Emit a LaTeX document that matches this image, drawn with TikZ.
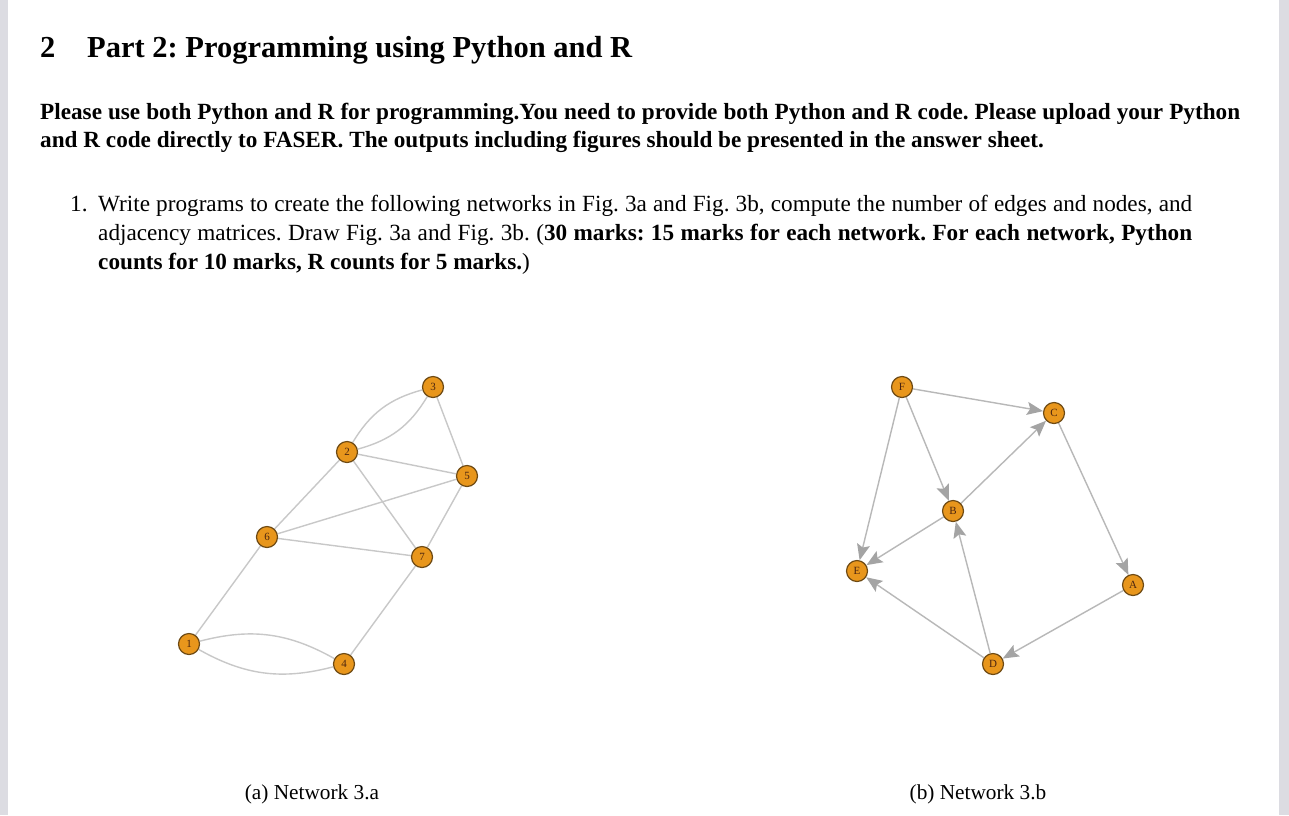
\documentclass[tikz,border=0pt]{standalone}
\usepackage{fontspec}
\setmainfont{Liberation Serif}
\usetikzlibrary{arrows.meta,backgrounds}
\definecolor{nodefill}{HTML}{E8961C}
\definecolor{nodeline}{HTML}{6E4A14}
\definecolor{nodetext}{HTML}{4A2410}
\definecolor{edgea}{HTML}{C8C8C8}
\definecolor{edgeb}{HTML}{B8B8B8}
\definecolor{arrowb}{HTML}{A4A4A4}
\definecolor{strip}{HTML}{DCDCE2}
\newcommand\jline[2]{\hbox to #1{#2}}
\frenchspacing
\tikzset{
  vtx/.style={circle, fill=nodefill, draw=nodeline, line width=1.2pt, minimum size=21pt, inner sep=0pt,
    font=\fontsize{11}{11}\selectfont, text=nodetext},
  ea/.style={draw=edgea, line width=1.4pt},
  eb/.style={draw=edgeb, line width=1.4pt, -{Stealth[length=16pt,width=13pt,inset=3pt,color=arrowb]}},
  bodytxt/.style={anchor=base west, inner sep=0pt, font=\fontsize{23.2}{27}\selectfont},
  titletxt/.style={anchor=base west, inner sep=0pt, font=\fontsize{30.5}{34}\selectfont\bfseries},
}
\begin{document}
\frenchspacing
\begin{tikzpicture}[x=1pt,y=-1pt]
\useasboundingbox (0,0) rectangle (1289,815);
\begin{pgfonlayer}{background}
\fill[white] (0,0) rectangle (1289,815);
\fill[strip] (0,0) rectangle (8,815);
\fill[strip] (1279,0) rectangle (1289,815);
\end{pgfonlayer}
% title
\node[titletxt] (tnum) at (40,57) {2};
\node[titletxt] (title) at (87,57) {Part 2: Programming using Python and R};
% bold paragraph
\node[bodytxt, font=\fontsize{23.2}{27}\selectfont\bfseries] (p1) at (40,119) {\jline{1200pt}{Please use both Python and R for programming.You need to provide both Python and R code. Please upload your Python}};
\node[bodytxt, font=\fontsize{23.2}{27}\selectfont\bfseries] (p2) at (40,147) {and R code directly to FASER. The outputs including figures should be presented in the answer sheet.};
% item
\node[bodytxt] (inum) at (70,211) {1.};
\node[bodytxt] (i1) at (98,211) {\jline{1094pt}{Write programs to create the following networks in Fig. 3a and Fig. 3b, compute the number of edges and nodes, and}};
\node[bodytxt] (i2) at (98,240) {\jline{1094pt}{adjacency matrices. Draw Fig. 3a and Fig. 3b. (\textbf{30 marks: 15 marks for each network. For each network, Python}}};
\node[bodytxt] (i3) at (98,269) {\textbf{counts for 10 marks, R counts for 5 marks.})};
% network a
\node[vtx] (a3) at (433,387) {3};
\node[vtx] (a2) at (347,452) {2};
\node[vtx] (a5) at (467,476) {5};
\node[vtx] (a6) at (267,537) {6};
\node[vtx] (a7) at (422,557) {7};
\node[vtx] (a1) at (189,644) {1};
\node[vtx] (a4) at (344,664) {4};
\begin{pgfonlayer}{background}
\path[ea] (a2) to[bend left=22] (a3);
\path[ea] (a2) to[bend right=22] (a3);
\path[ea] (a3) -- (a5);
\path[ea] (a2) -- (a5);
\path[ea] (a2) -- (a6);
\path[ea] (a2) -- (a7);
\path[ea] (a6) -- (a5);
\path[ea] (a6) -- (a7);
\path[ea] (a5) -- (a7);
\path[ea] (a6) -- (a1);
\path[ea] (a7) -- (a4);
\path[ea] (a1) to[bend left=22] (a4);
\path[ea] (a1) to[bend right=22] (a4);
\end{pgfonlayer}
% network b
\node[vtx] (bF) at (902,387) {F};
\node[vtx] (bC) at (1054,413) {C};
\node[vtx] (bB) at (953,511) {B};
\node[vtx] (bE) at (857,571) {E};
\node[vtx] (bA) at (1133,585) {A};
\node[vtx] (bD) at (993,664) {D};
\begin{pgfonlayer}{background}
\path[eb] (bF) -- (bC);
\path[eb] (bF) -- (bB);
\path[eb] (bF) -- (bE);
\path[eb] (bB) -- (bC);
\path[eb] (bB) -- (bE);
\path[eb] (bC) -- (bA);
\path[eb] (bA) -- (bD);
\path[eb] (bD) -- (bE);
\path[eb] (bD) -- (bB);
\end{pgfonlayer}
% captions
\node[anchor=base, inner sep=0pt, font=\fontsize{21.3}{24}\selectfont] (capa) at (312,799) {(a) Network 3.a};
\node[anchor=base, inner sep=0pt, font=\fontsize{21.3}{24}\selectfont] (capb) at (978,799) {(b) Network 3.b};
\end{tikzpicture}
\end{document}
